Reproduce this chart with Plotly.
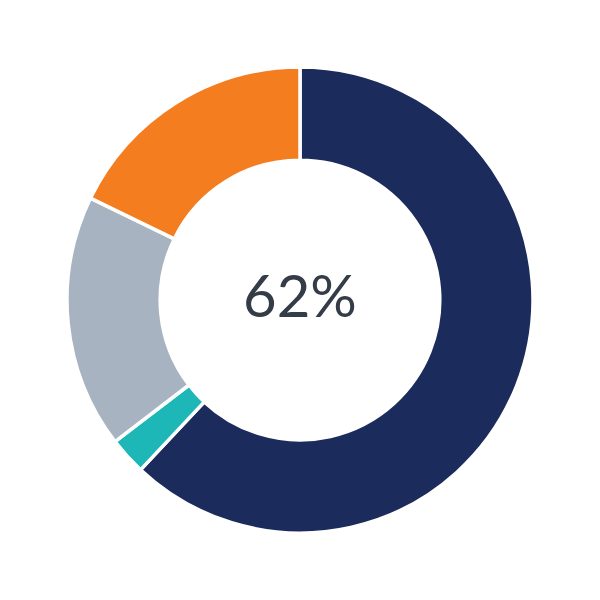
import plotly.graph_objects as go

labels = ["A", "B", "C", "D"]
values = [62.0, 2.6, 17.6, 17.8]
colors = ["#1b2b5b", "#1db7b8", "#a8b3c1", "#f47d20"]
center_text = "62%"

fig = go.Figure(
    go.Pie(
        labels=labels,
        values=values,
        hole=0.6,
        sort=False,
        direction="clockwise",
        rotation=0,
        textinfo="none",
        hoverinfo="none",
        marker=dict(colors=colors, line=dict(color="white", width=3.5)),
    )
)
fig.add_annotation(
    text=center_text,
    x=0.5,
    y=0.5,
    xref="paper",
    yref="paper",
    yshift=6,
    showarrow=False,
    font=dict(family="Lato", size=58, color="#343c48", weight=400),
)
fig.update_layout(
    width=600,
    height=600,
    showlegend=False,
    margin=dict(l=59, r=75, t=59, b=75),
    paper_bgcolor="white",
    plot_bgcolor="white",
)
fig.write_html("out.html")
